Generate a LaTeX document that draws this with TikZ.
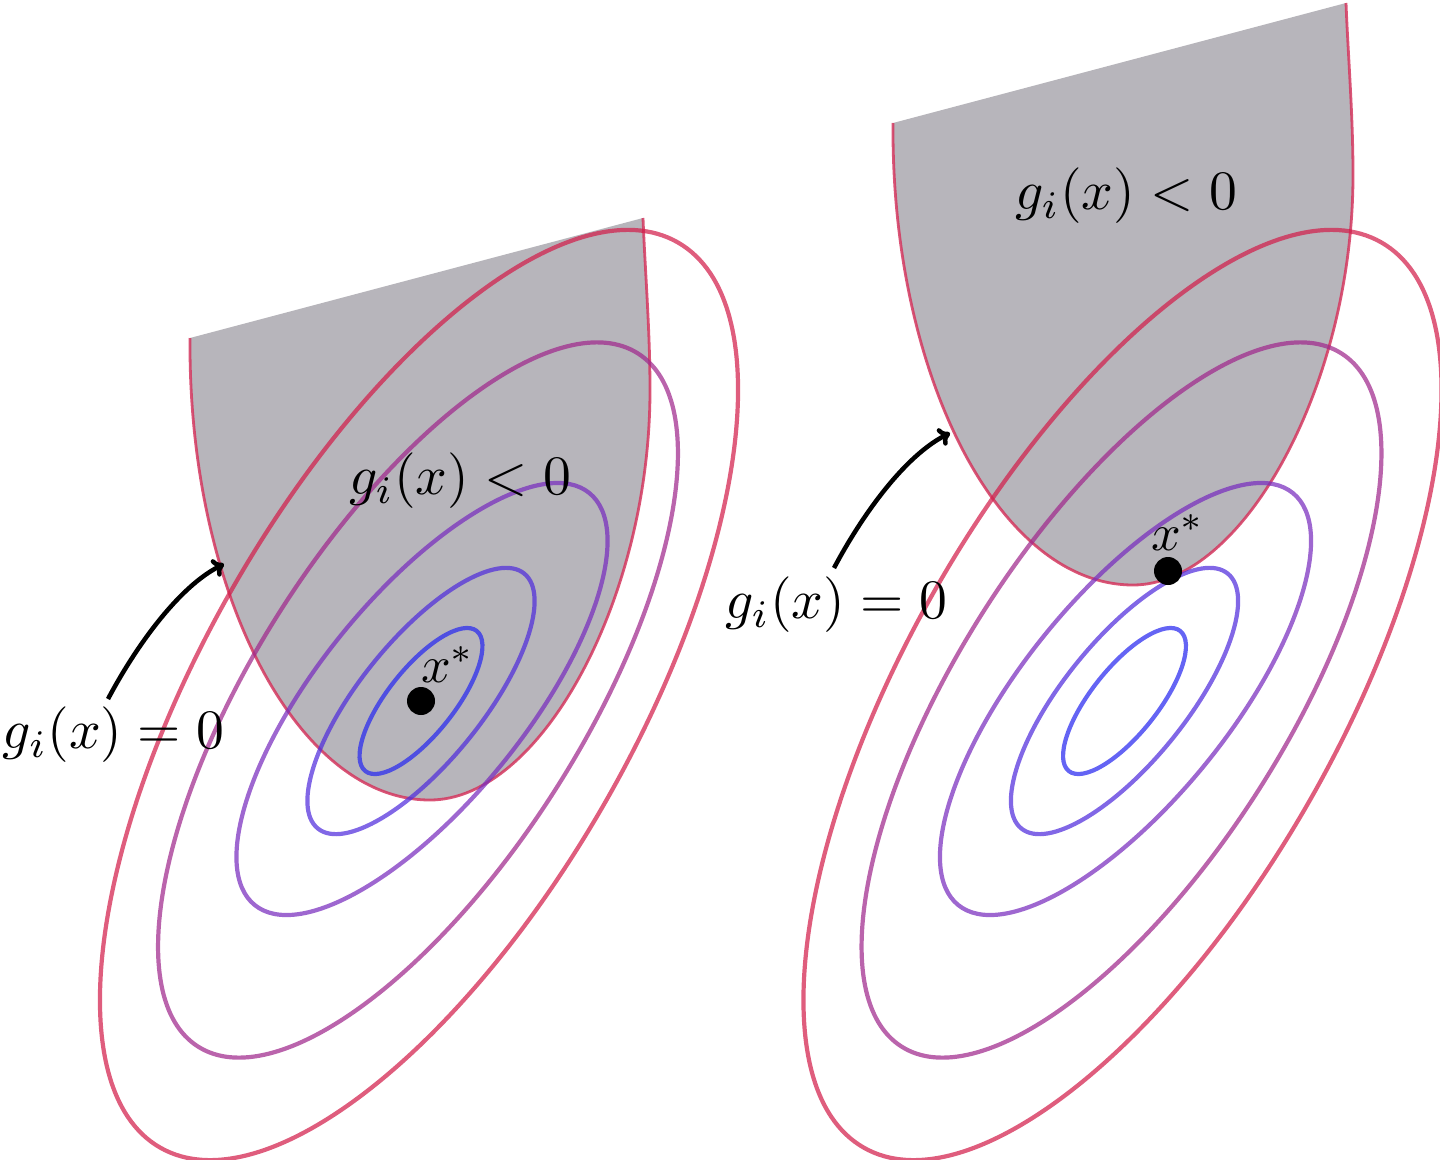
\documentclass[tikz,border=0pt]{standalone}
\usepackage{graphicx}
\usetikzlibrary{arrows.meta}
\definecolor{cA}{RGB}{40,40,240}
\definecolor{cB}{RGB}{80,45,220}
\definecolor{cC}{RGB}{120,45,190}
\definecolor{cD}{RGB}{160,40,140}
\definecolor{cE}{RGB}{210,30,75}
\definecolor{regiongrey}{RGB}{183,181,187}
\definecolor{edgered}{RGB}{212,55,95}
\newcommand\GreyOutline{(190,338) .. controls (188,590) and (296,800) .. (430,800)
  .. controls (540,800) and (650,600) .. (650,390)
  .. controls (650,330) and (645,270) .. (643,218)}
\newcommand\BigMath[1]{\scalebox{5.56}{$#1$}}
\newcommand\StarMath[1]{\scalebox{5.2}{$#1$}}
\begin{document}
\begin{tikzpicture}[x=1pt,y=-1pt,
  contour/.style={line width=4.2pt, opacity=0.72},
  regionfill/.style={fill=regiongrey},
  regionedge/.style={draw=edgered, line width=2.8pt, opacity=0.85},
  lbl/.style={inner sep=0pt},
  starlbl/.style={inner sep=0pt, anchor=base west},
  optdot/.style={circle, fill=black, minimum size=28pt, inner sep=0pt},
  pointer/.style={line width=4.5pt, -{To[length=11pt,width=19pt]}}]
\useasboundingbox (0,0) rectangle (1440,1159);

% ---------- left panel ----------
\fill[regionfill] \GreyOutline -- cycle;
\draw[regionedge] \GreyOutline;
\begin{scope}
  \draw[contour, draw=cA, shift={(421,701)}, rotate=51.5] (0,0) ellipse [x radius=89.5, y radius=33.1];
  \draw[contour, draw=cB, shift={(421,701)}, rotate=51] (0,0) ellipse [x radius=164, y radius=61];
  \draw[contour, draw=cC, shift={(422,699)}, rotate=50.9] (0,0) ellipse [x radius=265.4, y radius=103.1];
  \draw[contour, draw=cD, shift={(418,700)}, rotate=57.6] (0,0) ellipse [x radius=410.5, y radius=164];
  \draw[contour, draw=cE, shift={(419,695)}, rotate=60.24] (0,0) ellipse [x radius=521.4, y radius=214.9];
\end{scope}
\node[optdot] (xL) at (421,701) {};
\node[starlbl] (xsL) at (421,682) {\StarMath{x^*}};
\node[lbl] (inL) at (460,481) {\BigMath{g_i(x)<0}};
\node[lbl] (bdL) at (113.5,735) {\BigMath{g_i(x)=0}};
\coordinate (aL0) at (108,699);
\coordinate (aL1) at (224,564);
\draw[pointer] (aL0) .. controls (135,648) and (178,587) .. (aL1);

% ---------- right panel ----------
\begin{scope}[shift={(703,-215)}]
  \fill[regionfill] \GreyOutline -- cycle;
  \draw[regionedge] \GreyOutline;
\end{scope}
\begin{scope}[shift={(703.5,0)}]
  \draw[contour, draw=cA, shift={(421,701)}, rotate=51.5] (0,0) ellipse [x radius=89.5, y radius=33.1];
  \draw[contour, draw=cB, shift={(421,701)}, rotate=51] (0,0) ellipse [x radius=164, y radius=61];
  \draw[contour, draw=cC, shift={(422,699)}, rotate=50.9] (0,0) ellipse [x radius=265.4, y radius=103.1];
  \draw[contour, draw=cD, shift={(418,700)}, rotate=57.6] (0,0) ellipse [x radius=410.5, y radius=164];
  \draw[contour, draw=cE, shift={(419,695)}, rotate=60.24] (0,0) ellipse [x radius=521.4, y radius=214.9];
\end{scope}
\node[optdot] (xR) at (1168,571) {};
\node[starlbl] (xsR) at (1151,550) {\StarMath{x^*}};
\node[lbl] (inR) at (1126,196) {\BigMath{g_i(x)<0}};
\node[lbl] (bdR) at (836,605) {\BigMath{g_i(x)=0}};
\coordinate (aR0) at (834,568);
\coordinate (aR1) at (950,433);
\draw[pointer] (aR0) .. controls (861,517) and (904,456) .. (aR1);
\end{tikzpicture}
\end{document}
